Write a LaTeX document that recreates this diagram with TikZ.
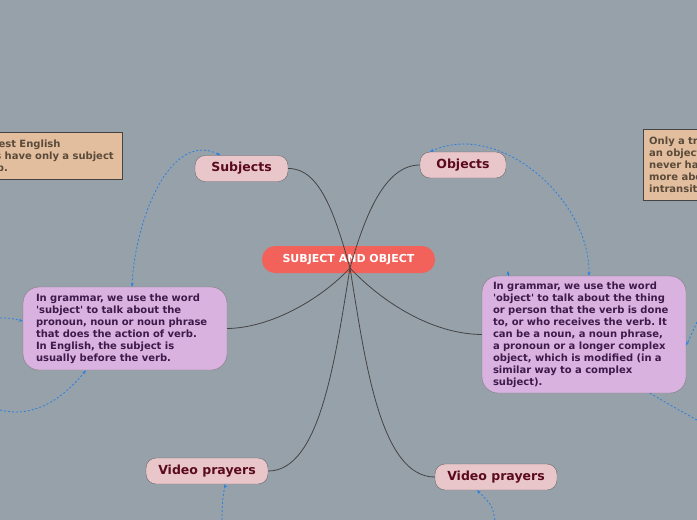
\documentclass[tikz,border=0pt]{standalone}
\usepackage{fontspec}
\setmainfont{DejaVu Sans}
\usetikzlibrary{arrows.meta}
\frenchspacing
\definecolor{bg}{HTML}{97A1AA}
\definecolor{cen}{HTML}{F2625A}
\definecolor{pinkf}{HTML}{E8C6CA}
\definecolor{pinkt}{HTML}{5A0A1A}
\definecolor{lavf}{HTML}{D9B2E0}
\definecolor{lavt}{HTML}{3D1A4A}
\definecolor{tanf}{HTML}{E3BE9E}
\definecolor{tant}{HTML}{5A4A3A}
\definecolor{linkc}{HTML}{2A7FE0}
\definecolor{brc}{HTML}{444444}
\tikzset{
 topic/.style={draw=brc!80,fill=pinkf,text=pinkt,rounded corners=10pt,font=\bfseries\fontsize{12.5}{14}\selectfont,inner sep=0pt,minimum height=26pt},
 desc/.style={draw=brc!70,fill=lavf,text=lavt,rounded corners=16pt,font=\bfseries\fontsize{10}{12}\selectfont,align=left,inner sep=0pt},
 note/.style={draw=brc,fill=tanf,text=tant,font=\bfseries\fontsize{10}{12}\selectfont,align=left,inner sep=0pt},
 branch/.style={draw=brc,line width=0.8pt},
 rel/.style={draw=linkc,dashed,dash pattern=on 2pt off 2pt,line width=0.8pt,-{Stealth[length=4pt]}},
 relb/.style={rel,{Stealth[length=4pt]}-{Stealth[length=4pt]}}
}
\begin{document}
\begin{tikzpicture}[x=1pt,y=-1pt]
\fill[bg] (0,0) rectangle (697,520);
\clip (0,0) rectangle (697,520);
% tan notes
\node[note,anchor=north west,minimum width=180pt,minimum height=47pt,text width=176pt] (n1) at (-58,132) {The simplest English\\sentences have only a subject\\and a verb.};
\node[note,anchor=north west,minimum width=220pt,minimum height=71pt,text width=212pt] (n2) at (643,129) {\hspace*{2pt}Only a transitive verb can have\\\hspace*{2pt}an object. An intransitive verb\\\hspace*{2pt}never has an object. Learn\\\hspace*{2pt}more about transitive and\\\hspace*{2pt}intransitive verbs.};
% center
\node[fill=cen,text=white,rounded corners=13pt,minimum width=173pt,minimum height=27pt,inner sep=0pt,font=\bfseries\fontsize{11}{12}\selectfont] (c) at (348.5,259.5) {SUBJECT AND OBJECT};
\coordinate (hub) at (350,268);
% topics
\node[topic,minimum width=93pt] (sub) at (241.5,168.5) {Subjects};
\node[topic,minimum width=86pt] (obj) at (463,165) {Objects};
\node[topic,minimum width=122pt] (vpl) at (207,471) {Video prayers};
\node[topic,minimum width=122pt] (vpr) at (496,477) {Video prayers};
\node[desc,minimum width=204pt,minimum height=83pt,text width=178pt] (sd) at (125,328.5) {In grammar, we use the word\\\textquotesingle subject\textquotesingle{} to talk about the\\pronoun, noun or noun phrase\\that does the action of verb.\\In English, the subject is\\usually before the verb.};
\node[desc,minimum width=204pt,minimum height=117pt,text width=182pt] (od) at (584,334.5) {In grammar, we use the word\\\textquotesingle object\textquotesingle{} to talk about the thing\\or person that the verb is done\\to, or who receives the verb. It\\can be a noun, a noun phrase,\\a pronoun or a longer complex\\object, which is modified (in a\\similar way to a complex\\subject).};
% branches
\draw[branch] (hub) .. controls (335,215) and (320,168) .. (sub.east);
\draw[branch] (hub) .. controls (365,215) and (385,165) .. (obj.west);
\draw[branch] (hub) .. controls (320,300) and (270,328) .. (sd.east);
\draw[branch] (hub) .. controls (380,300) and (430,334) .. (od.west);
\draw[branch] (hub) .. controls (335,360) and (320,471) .. (vpl.east);
\draw[branch] (hub) .. controls (365,360) and (380,477) .. (vpr.west);
% relations
\draw[relb] ([xshift=7pt]sd.north) .. controls (135,220) and (170,130) .. ([xshift=-21pt]sub.north);
\draw[relb] ([xshift=5pt]od.north) .. controls (590,200) and (500,120) .. ([xshift=10pt]obj.north west);
\coordinate (e1) at (0,318);
\coordinate (e2) at (0,410);
\coordinate (e3) at (697,322);
\coordinate (e4) at (697,420);
\coordinate (e5) at (222,520);
\coordinate (e6) at (495,520);
\draw[rel] (e1) .. controls (10,318) .. (sd.west |- 0,321);
\draw[rel] (e2) .. controls (40,420) and (70,390) .. ([xshift=-39pt]sd.south);
\draw[rel] (e3) -- ([yshift=-11pt]od.east);
\draw[rel,-] ([xshift=66pt]od.south) .. controls (670,405) .. (e4);
\draw[rel] (e5) .. controls (222,495) and (225,486) .. ([xshift=17pt]vpl.south);
\draw[rel] (e6) .. controls (492,505) .. ([xshift=-19pt]vpr.south);
\draw[linkc,-{Stealth[length=4pt]}] (508,276) -- (508,271);
\end{tikzpicture}
\end{document}
